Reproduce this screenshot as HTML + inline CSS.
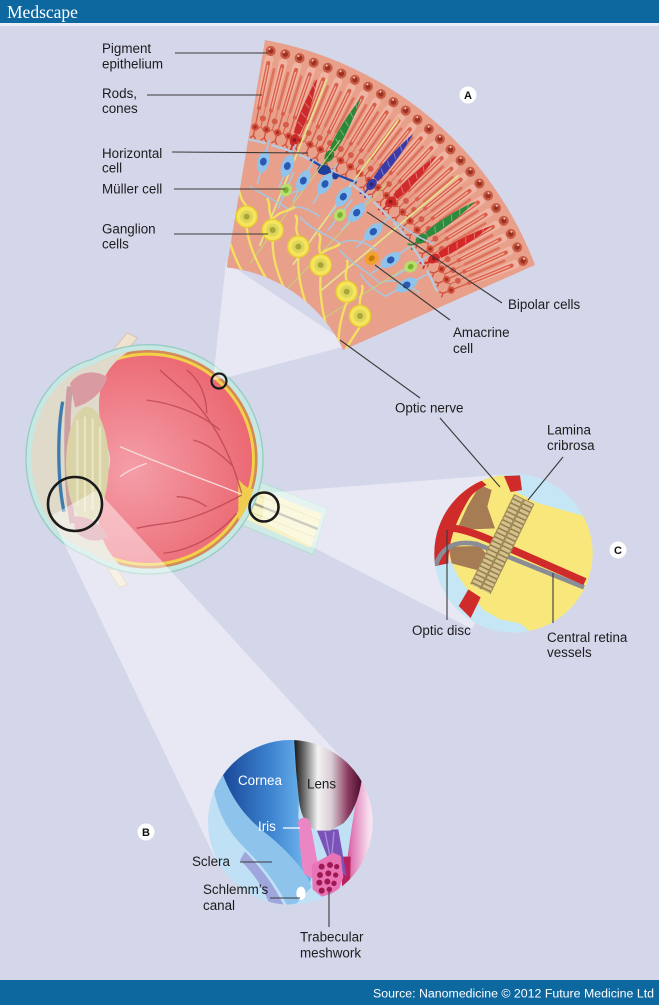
<!DOCTYPE html>
<html><head><meta charset="utf-8"><style>
html,body{margin:0;padding:0;background:#d4d6ea;}
svg{display:block;}
text{font-family:"Liberation Sans",Arial,sans-serif;}
</style></head><body>
<svg width="659" height="1005" viewBox="0 0 659 1005" xmlns="http://www.w3.org/2000/svg">
<defs>
 <radialGradient id="vit" cx="0.42" cy="0.55" r="0.6">
  <stop offset="0" stop-color="#f49ea8"/><stop offset="1" stop-color="#eb6872"/>
 </radialGradient>
 <linearGradient id="lensg" gradientUnits="userSpaceOnUse" x1="492" y1="0" x2="695" y2="0">
  <stop offset="0" stop-color="#141414"/><stop offset="0.12" stop-color="#5a5a5a"/>
  <stop offset="0.35" stop-color="#f2f2f2"/><stop offset="0.55" stop-color="#dacdd4"/>
  <stop offset="0.8" stop-color="#8a3a60"/><stop offset="1" stop-color="#4a0c2a"/>
 </linearGradient>
 <linearGradient id="corg" gradientUnits="userSpaceOnUse" x1="290" y1="150" x2="520" y2="150">
  <stop offset="0" stop-color="#1b4c9c"/><stop offset="0.6" stop-color="#3f86d2"/><stop offset="1" stop-color="#6cb2ea"/>
 </linearGradient>
 <linearGradient id="rpg" gradientUnits="userSpaceOnUse" x1="620" y1="0" x2="735" y2="0">
  <stop offset="0" stop-color="#a01c5c"/><stop offset="0.4" stop-color="#e07ab4"/>
  <stop offset="0.8" stop-color="#f6d6ea"/><stop offset="1" stop-color="#fbeef6"/>
 </linearGradient>
 <pattern id="lam" x="-34" y="-150" width="34" height="14" patternUnits="userSpaceOnUse">
  <rect x="1" y="1" width="32" height="12" rx="6" fill="#d5c18b" stroke="#8c7747" stroke-width="2"/>
 </pattern>
 <clipPath id="fanclip"><path d="M195,30 A1072,1072 0 0 1 1005,705 L430,960 A443,443 0 0 0 80,712 Z"/></clipPath>
 <clipPath id="eyein"><ellipse cx="262" cy="415" rx="228" ry="286"/><circle cx="385" cy="418" r="328"/></clipPath>
 <clipPath id="ccl"><circle cx="400" cy="490" r="238"/></clipPath>
 <clipPath id="bcl"><circle cx="481" cy="277" r="247"/></clipPath>

 <g id="rod">
  <path d="M-13,-1018 C-13,-1032 13,-1032 13,-1018 L9,-870 L-9,-870 Z" fill="#f0b4a2"/>
  <rect x="-6" y="-1012" width="12" height="150" rx="6" fill="#d9604b"/>
  <rect x="-2" y="-1000" width="4" height="125" fill="#f3b09d"/>
  <line x1="0" y1="-862" x2="0" y2="-820" stroke="#d75c47" stroke-width="4"/>
  <circle cx="0" cy="-810" r="11" fill="#d5513f"/>
  <circle cx="0" cy="-810" r="5" fill="#a9301f"/>
  <path d="M0,-799 L0,-784 M-9,-775 L0,-784 L9,-775" stroke="#cf4f3e" stroke-width="4" fill="none"/>
  <circle cx="0" cy="-1043" r="15" fill="#c95b45"/>
  <circle cx="0" cy="-1043" r="8" fill="#9b3122"/>
  <circle cx="-5" cy="-1048" r="3" fill="#f3c7b7"/>
 </g>
 <g id="rod2">
  <rect x="-4" y="-995" width="8" height="120" rx="4" fill="#de735d"/>
  <line x1="0" y1="-875" x2="0" y2="-850" stroke="#de735d" stroke-width="3"/>
  <circle cx="0" cy="-840" r="9" fill="#d45c48"/>
  <path d="M0,-831 L0,-815 M-7,-807 L0,-815 L7,-807" stroke="#d45c48" stroke-width="3" fill="none"/>
 </g>
 <g id="cone">
  <path d="M0,-1002 C8,-960 13,-900 12,-860 L9,-825 L-9,-825 L-12,-860 C-13,-900 -8,-960 0,-1002 Z" fill="currentColor"/>
  <path d="M-5,-980 L5,-970 M-7,-950 L7,-940 M-8,-920 L8,-910 M-9,-890 L9,-880 M-9,-860 L9,-850" stroke="#ffffff" stroke-opacity=".35" stroke-width="3"/>
  <ellipse cx="0" cy="-805" rx="13" ry="19" fill="currentColor"/>
  <circle cx="0" cy="-805" r="6" fill="#000" fill-opacity=".3"/>
  <path d="M0,-786 L0,-772 M-11,-762 L0,-772 L11,-762" stroke="currentColor" stroke-width="5" fill="none"/>
 </g>
 <line id="mul" x1="0" y1="-1010" x2="0" y2="-470" stroke="#e4e48a" stroke-width="5"/>
 <g id="bip"><path d="M-70,0 L70,0" stroke="#a9c6e0" stroke-width="5"/><ellipse rx="34" ry="18" fill="#8fc3eb"/><ellipse rx="12" ry="10" fill="#2a59b3"/></g>
 <g id="grn"><path d="M-60,0 L60,0" stroke="#a9c6e0" stroke-width="5"/><ellipse rx="20" ry="17" fill="#b9de6c"/><ellipse rx="9" ry="8" fill="#7cb232"/></g>
 <g id="gan"><circle r="32" fill="#f6e55c" stroke="#e6cc2e" stroke-width="4"/><circle r="19" fill="#dcd65a"/><circle r="9" fill="#a9a536"/></g>
</defs>

<rect width="659" height="1005" fill="#d4d6ea"/>
<!-- header -->
<rect width="659" height="23" fill="#0e68a0"/>
<rect y="23" width="659" height="3" fill="#eceef7"/>
<text x="7" y="18" style="font-family:'Liberation Serif',serif" font-size="17.5" fill="#fff">Medscape</text>

<!-- ============ EYE ============ -->
<g transform="translate(20,320) scale(0.333333)">
 <g fill="#efe3cf" stroke="#d6c6ae" stroke-width="3">
  <path d="M272,98 L322,38 L352,54 L306,110 Z"/>
  <path d="M262,748 L298,802 L322,795 L292,744 Z"/>
 </g>
 <path d="M672,466 L922,566 L880,704 L664,614 Z" fill="#d0ebe6" stroke="#b4dcd6" stroke-width="3"/>
 <path d="M678,492 L906,582 L872,684 L670,594 Z" fill="#f7f2c6"/>
 <path d="M684,514 L902,602" stroke="#e6dda8" stroke-width="3"/>
 <path d="M680,542 L893,627" stroke="#a6a38c" stroke-width="7"/>
 <path d="M676,570 L884,652" stroke="#e6dda8" stroke-width="3"/>
 <g stroke="#98ccc4" stroke-width="8" fill="#c6e7e2">
  <ellipse cx="262" cy="415" rx="242" ry="300"/>
  <circle cx="385" cy="418" r="342"/>
 </g>
 <g fill="#c6e7e2">
  <ellipse cx="262" cy="415" rx="242" ry="300"/>
  <circle cx="385" cy="418" r="342"/>
 </g>
 <g clip-path="url(#eyein)">
  <circle cx="385" cy="418" r="328" fill="#d48a58"/>
  <circle cx="385" cy="418" r="320" fill="#f2d048"/>
  <circle cx="385" cy="418" r="311" fill="url(#vit)"/>
  <path d="M655,478 C680,505 690,510 710,505 L710,590 C690,580 680,580 655,600 Z" fill="#f0cc50"/>
  <g stroke="#b8404e" stroke-width="4" fill="none" opacity=".75">
   <path d="M665,520 C640,430 600,330 520,240 C480,200 440,170 420,150"/>
   <path d="M600,330 C540,280 460,250 380,240"/>
   <path d="M560,280 C560,230 540,180 500,150"/>
   <path d="M640,440 C600,400 560,370 520,360"/>
   <path d="M665,525 C600,560 520,600 440,610 C400,615 370,620 350,625"/>
   <path d="M650,580 C600,640 520,690 430,700"/>
   <path d="M560,560 C530,540 500,530 470,530"/>
  </g>
  <g stroke="#f6dada" stroke-width="4" fill="none">
   <path d="M662,522 C560,480 440,440 300,380"/>
   <path d="M380,430 C350,440 320,455 300,470"/>
  </g>
  <path d="M330,92 C250,140 228,210 240,300 C250,360 275,395 270,430 C265,470 240,520 236,585 C234,645 262,700 310,745 L0,760 L0,80 Z" fill="#e0dacb"/>
  <path d="M150,200 C138,300 138,500 158,610" stroke="#c8929c" stroke-width="18" fill="none" opacity=".85"/>
  <path d="M128,245 C112,330 112,480 132,575" stroke="#3e7cae" stroke-width="10" fill="none"/>
  <ellipse cx="202" cy="432" rx="64" ry="172" fill="#d9d3a6"/>
  <g stroke="#e8e4c4" stroke-width="7"><line x1="172" y1="300" x2="172" y2="560"/><line x1="195" y1="290" x2="195" y2="575"/><line x1="218" y1="295" x2="218" y2="570"/><line x1="240" y1="320" x2="240" y2="540"/></g>
  <path d="M150,190 C180,150 230,150 262,172 C250,215 210,250 165,262 Z" fill="#d99aa2"/>
  <path d="M160,590 C200,585 245,610 264,650 C230,672 190,662 165,632 Z" fill="#d99aa2"/>
 </g>
</g>

<!-- projection wedges -->
<g fill="#ffffff" fill-opacity="0.45">
 <polygon points="213,380 226,262 350,345 225,378"/>
 <polygon points="265,493 509,474 513,553 472,629 262,521"/>
 <polygon points="51,516 97,490 350,767 290,822 215,858"/>
</g>

<!-- zoom circles on eye -->
<g fill="none" stroke="#1a1a1a">
 <circle cx="219" cy="381" r="7.5" stroke-width="2.2"/>
 <circle cx="264" cy="507" r="14.5" stroke-width="2.6"/>
 <circle cx="75" cy="504" r="27" stroke-width="2.6"/>
</g>

<!-- ============ RETINA FAN (A) ============ -->
<g transform="translate(200,30) scale(0.333333)">
 <g clip-path="url(#fanclip)">
  <rect x="0" y="0" width="1100" height="1000" fill="#e8a08b"/>
  <g transform="translate(2.5,1084.5)">
   <use href="#rod2" transform="rotate(12.8)"/><use href="#rod2" transform="rotate(15.3)"/><use href="#rod2" transform="rotate(17.7)"/><use href="#rod2" transform="rotate(20.2)"/><use href="#rod2" transform="rotate(22.6)"/><use href="#rod2" transform="rotate(25.1)"/><use href="#rod2" transform="rotate(27.5)"/><use href="#rod2" transform="rotate(30)"/><use href="#rod2" transform="rotate(32.4)"/><use href="#rod2" transform="rotate(34.9)"/><use href="#rod2" transform="rotate(37.3)"/><use href="#rod2" transform="rotate(39.8)"/><use href="#rod2" transform="rotate(42.2)"/><use href="#rod2" transform="rotate(44.7)"/><use href="#rod2" transform="rotate(47.1)"/><use href="#rod2" transform="rotate(49.6)"/><use href="#rod2" transform="rotate(52)"/><use href="#rod2" transform="rotate(54.5)"/><use href="#rod2" transform="rotate(56.9)"/><use href="#rod2" transform="rotate(59.4)"/><use href="#rod2" transform="rotate(61.8)"/><use href="#rod2" transform="rotate(64.3)"/><use href="#rod2" transform="rotate(66.7)"/>
   <use href="#rod" transform="rotate(11.6)"/><use href="#rod" transform="rotate(14.05)"/><use href="#rod" transform="rotate(16.5)"/><use href="#rod" transform="rotate(18.95)"/><use href="#rod" transform="rotate(21.4)"/><use href="#rod" transform="rotate(23.85)"/><use href="#rod" transform="rotate(26.3)"/><use href="#rod" transform="rotate(28.75)"/><use href="#rod" transform="rotate(31.2)"/><use href="#rod" transform="rotate(33.65)"/><use href="#rod" transform="rotate(36.1)"/><use href="#rod" transform="rotate(38.55)"/><use href="#rod" transform="rotate(41)"/><use href="#rod" transform="rotate(43.45)"/><use href="#rod" transform="rotate(45.9)"/><use href="#rod" transform="rotate(48.35)"/><use href="#rod" transform="rotate(50.8)"/><use href="#rod" transform="rotate(53.25)"/><use href="#rod" transform="rotate(55.7)"/><use href="#rod" transform="rotate(58.15)"/><use href="#rod" transform="rotate(60.6)"/><use href="#rod" transform="rotate(63.05)"/><use href="#rod" transform="rotate(65.5)"/><use href="#rod" transform="rotate(67.95)"/>
   <use href="#mul" transform="rotate(22)"/><use href="#mul" transform="rotate(36)"/><use href="#mul" transform="rotate(50)"/>
   <use href="#cone" color="#cc2a2a" transform="rotate(20.4)"/>
   <use href="#cone" color="#2a8838" transform="rotate(28.6)"/>
   <use href="#cone" color="#3a3aa8" transform="rotate(39.5)"/>
   <use href="#cone" color="#d02a2a" transform="rotate(45)"/>
   <use href="#cone" color="#2e8a3c" transform="rotate(55.3)"/>
   <use href="#cone" color="#d42828" transform="rotate(60.3)"/>
   <path d="M126,-759 A770,770 0 0 1 716,-282" stroke="#b8cade" stroke-width="7" fill="none" stroke-dasharray="70 18"/>
  </g>
  <!-- dark blue horizontal cell -->
  <path d="M330,388 L395,428 L470,458" stroke="#2a4aa8" stroke-width="7" fill="none"/>
  <ellipse cx="372" cy="420" rx="20" ry="15" fill="#1e3f9a"/>
  <ellipse cx="405" cy="440" rx="10" ry="8" fill="#1e3f9a"/>
  <!-- dendrites -->
  <g stroke="#aac4dc" stroke-width="5" fill="none">
   <path d="M150,470 C200,500 240,520 270,540 C300,520 330,540 360,560"/>
   <path d="M300,560 C330,600 380,610 420,640 C460,620 500,640 530,660"/>
   <path d="M420,660 C450,700 500,720 540,760 C580,740 620,760 660,790"/>
   <path d="M560,560 C600,580 640,620 700,640"/>
   <path d="M240,500 L300,480"/>
   <path d="M480,730 C500,760 520,780 560,800"/>
  </g>
  <g stroke="#c4d47a" stroke-width="3" fill="none">
   <path d="M150,700 L420,330"/><path d="M250,790 L560,460"/><path d="M330,890 L640,700"/>
  </g>
  <!-- bipolar cells -->
  <use href="#bip" transform="translate(190,395) rotate(-74.8)"/>
  <use href="#bip" transform="translate(262,408) rotate(-69)"/>
  <use href="#bip" transform="translate(310,452) rotate(-64)"/>
  <use href="#bip" transform="translate(375,462) rotate(-59)"/>
  <use href="#bip" transform="translate(430,500) rotate(-53.8)"/>
  <use href="#bip" transform="translate(470,548) rotate(-48.9)"/>
  <use href="#bip" transform="translate(520,605) rotate(-42.8)"/>
  <use href="#bip" transform="translate(572,690) rotate(-34.7)"/>
  <use href="#bip" transform="translate(620,765) rotate(-27.4)"/>
  <use href="#grn" transform="translate(258,480) rotate(-67)"/>
  <use href="#grn" transform="translate(420,555) rotate(-51.7)"/>
  <use href="#grn" transform="translate(632,710) rotate(-30.7)"/>
  <g transform="translate(515,685) rotate(-37.9)"><ellipse rx="22" ry="19" fill="#f0a22a"/><ellipse rx="10" ry="8" fill="#c87810"/></g>
  <!-- axons -->
  <g stroke="#f4e060" stroke-width="7" fill="none">
   <path d="M85,620 C120,760 230,880 360,985"/>
   <path d="M140,592 C150,700 260,850 375,985"/>
   <path d="M218,632 C215,740 300,880 390,985"/>
   <path d="M295,682 C290,780 340,890 400,985"/>
   <path d="M362,737 C355,830 385,910 410,985"/>
   <path d="M440,817 C420,870 410,920 418,985"/>
   <path d="M480,890 C460,920 440,950 425,985"/>
   <path d="M140,528 C115,505 125,480 105,468"/>
   <path d="M218,568 C200,540 215,520 200,505 M218,568 C240,540 270,545 285,530"/>
   <path d="M295,618 C280,590 300,570 285,555"/>
   <path d="M362,673 C350,645 370,625 355,610 M362,673 C385,650 410,655 420,640"/>
   <path d="M440,753 C430,725 450,705 440,690"/>
   <path d="M480,826 C475,800 495,780 485,765"/>
  </g>
  <use href="#gan" transform="translate(140,560)"/>
  <use href="#gan" transform="translate(218,600)"/>
  <use href="#gan" transform="translate(295,650)"/>
  <use href="#gan" transform="translate(362,705)"/>
  <use href="#gan" transform="translate(440,785)"/>
  <use href="#gan" transform="translate(480,858)"/>
 </g>
</g>

<!-- ============ CIRCLE C ============ -->
<g transform="translate(380,390) scale(0.333333)">
 <g clip-path="url(#ccl)">
  <rect x="150" y="240" width="500" height="500" fill="#c5e6f5"/>
  <path d="M285,262 L375,256 L395,298 L470,338 L612,378 L650,450 L650,570 L600,650 L520,705 L455,728 L420,700 L360,688 L310,660 L275,615 L235,560 L195,480 L190,400 L230,320 Z" fill="#f8e77a"/>
  <path d="M300,285 L335,300 L322,350 L345,415 L230,420 L262,350 Z" fill="#a67c55"/>
  <path d="M205,470 L300,468 L345,525 L290,540 L215,520 Z" fill="#a67c55"/>
  <path d="M305,272 A238,238 0 0 0 166,528 L205,520 C205,450 230,390 265,330 C280,305 300,295 320,285 Z" fill="#cf2b2b"/>
  <path d="M372,258 L420,256 L426,300 L392,306 Z" fill="#cf2b2b"/>
  <path d="M236,648 L265,598 L302,622 L272,684 Z" fill="#cf2b2b"/>
  <path d="M168,525 C185,470 225,450 290,462 L612,592" stroke="#8a8c96" stroke-width="14" fill="none"/>
  <path d="M205,412 C240,416 280,428 320,445 L615,575" stroke="#cf2b2b" stroke-width="22" fill="none"/>
  <g transform="translate(367,462) rotate(26)">
   <rect x="-34" y="-150" width="68" height="300" fill="#a89060"/>
   <rect x="-34" y="-150" width="68" height="300" fill="url(#lam)"/>
  </g>
 </g>
</g>

<!-- ============ CIRCLE B ============ -->
<g transform="translate(130,730) scale(0.333333)">
 <g clip-path="url(#bcl)">
  <rect x="220" y="20" width="530" height="520" fill="#c0e0f6"/>
  <path d="M262,120 L285,110 C300,200 340,260 420,320 C480,370 520,420 545,470 L500,520 L470,525 C440,460 400,410 340,350 C290,300 260,240 250,170 Z" fill="#8ec3ec"/>
  <path d="M345,365 C390,410 430,460 462,528 L420,528 C400,470 370,430 330,390 Z" fill="#9ea6dc"/>
  <path d="M270,110 C370,50 440,25 495,20 L510,120 L505,260 L545,440 L540,460 C520,420 480,370 420,320 C340,260 300,200 270,110 Z" fill="url(#corg)"/>
  <path d="M690,120 L740,150 L740,480 L640,480 L650,400 C660,330 670,250 690,150 Z" fill="url(#rpg)"/>
  <path d="M636,380 L662,380 L660,470 L636,478 Z" fill="#b8205e"/>
  <path d="M560,300 L625,298 L650,440 L600,400 Z" fill="#7a52b8"/>
  <path d="M585,305 L600,380 M612,305 L605,380" stroke="#a890d8" stroke-width="4"/>
  <path d="M492,20 L680,40 L695,150 C685,220 660,260 640,280 L600,302 L560,302 C530,290 515,260 508,220 L498,120 Z" fill="url(#lensg)"/>
  <path d="M505,285 C500,262 530,255 540,275 L565,410 L545,445 L520,430 C512,380 508,330 505,285 Z" fill="#ea86c4"/>
  <path d="M545,405 L610,368 L632,378 L640,440 L625,485 L575,500 L548,478 Z" fill="#e874b6"/>
  <g fill="#a01850">
   <circle cx="575" cy="410" r="9"/><circle cx="600" cy="405" r="9"/><circle cx="620" cy="410" r="8"/>
   <circle cx="570" cy="435" r="9"/><circle cx="595" cy="430" r="9"/><circle cx="617" cy="435" r="8"/>
   <circle cx="568" cy="458" r="9"/><circle cx="592" cy="455" r="9"/><circle cx="612" cy="460" r="8"/>
   <circle cx="575" cy="482" r="9"/><circle cx="598" cy="478" r="8"/>
  </g>
  <ellipse cx="513" cy="490" rx="14" ry="20" fill="#ffffff"/>
 </g>
</g>

<!-- ============ LABELS ============ -->
<g stroke="#3a3a3a" stroke-width="1.1" fill="none">
 <line x1="175" y1="53" x2="268" y2="53"/>
 <line x1="147" y1="95" x2="262" y2="95"/>
 <line x1="172" y1="152" x2="308" y2="153"/>
 <line x1="174" y1="189" x2="285" y2="189"/>
 <line x1="174" y1="234" x2="268" y2="234"/>
 <line x1="367" y1="212" x2="502" y2="303"/>
 <line x1="375" y1="265" x2="450" y2="320"/>
 <line x1="340" y1="340" x2="420" y2="398"/>
 <line x1="440" y1="418" x2="500" y2="487"/>
 <line x1="563" y1="457" x2="528" y2="500"/>
 <line x1="447" y1="530" x2="447" y2="620"/>
 <line x1="553" y1="573" x2="553" y2="623"/>
 <line x1="240" y1="862" x2="272" y2="862"/>
 <line x1="270" y1="898" x2="300" y2="898"/>
 <line x1="329" y1="892" x2="329" y2="927"/>
</g>
<line x1="283" y1="828" x2="300" y2="828" stroke="#ffffff" stroke-width="1.3"/>

<g font-size="13.4" fill="#1c1c1c">
 <text x="102" y="53">Pigment</text>
 <text x="102" y="68.5">epithelium</text>
 <text x="102" y="98">Rods,</text>
 <text x="102" y="113">cones</text>
 <text x="102" y="158">Horizontal</text>
 <text x="102" y="172.5">cell</text>
 <text x="102" y="193.5">Müller cell</text>
 <text x="102" y="233.5">Ganglion</text>
 <text x="102" y="248.5">cells</text>
 <text x="508" y="309">Bipolar cells</text>
 <text x="453" y="337">Amacrine</text>
 <text x="453" y="353">cell</text>
 <text x="395" y="412.5">Optic nerve</text>
 <text x="547" y="434.5">Lamina</text>
 <text x="547" y="450">cribrosa</text>
 <text x="412" y="635">Optic disc</text>
 <text x="547" y="642">Central retina</text>
 <text x="547" y="657">vessels</text>
 <text x="307" y="788.5">Lens</text>
 <text x="192" y="866">Sclera</text>
 <text x="203" y="894">Schlemm’s</text>
 <text x="203" y="910">canal</text>
 <text x="300" y="941.5">Trabecular</text>
 <text x="300" y="957.5">meshwork</text>
</g>
<g font-size="13.4" fill="#ffffff">
 <text x="238" y="785">Cornea</text>
 <text x="258" y="831">Iris</text>
</g>

<!-- badges -->
<g font-size="11" font-weight="bold" text-anchor="middle" fill="#111">
 <circle cx="468" cy="95" r="8.5" fill="#ffffff"/><text x="468" y="99">A</text>
 <circle cx="146" cy="832" r="8.5" fill="#ffffff"/><text x="146" y="836">B</text>
 <circle cx="618" cy="550" r="8.5" fill="#ffffff"/><text x="618" y="554">C</text>
</g>

<!-- footer -->
<rect y="980" width="659" height="25" fill="#0e68a0"/>
<text x="373" y="997.5" font-size="11.5" fill="#ffffff" textLength="281" lengthAdjust="spacingAndGlyphs">Source: Nanomedicine © 2012 Future Medicine Ltd</text>
</svg>
</body></html>
